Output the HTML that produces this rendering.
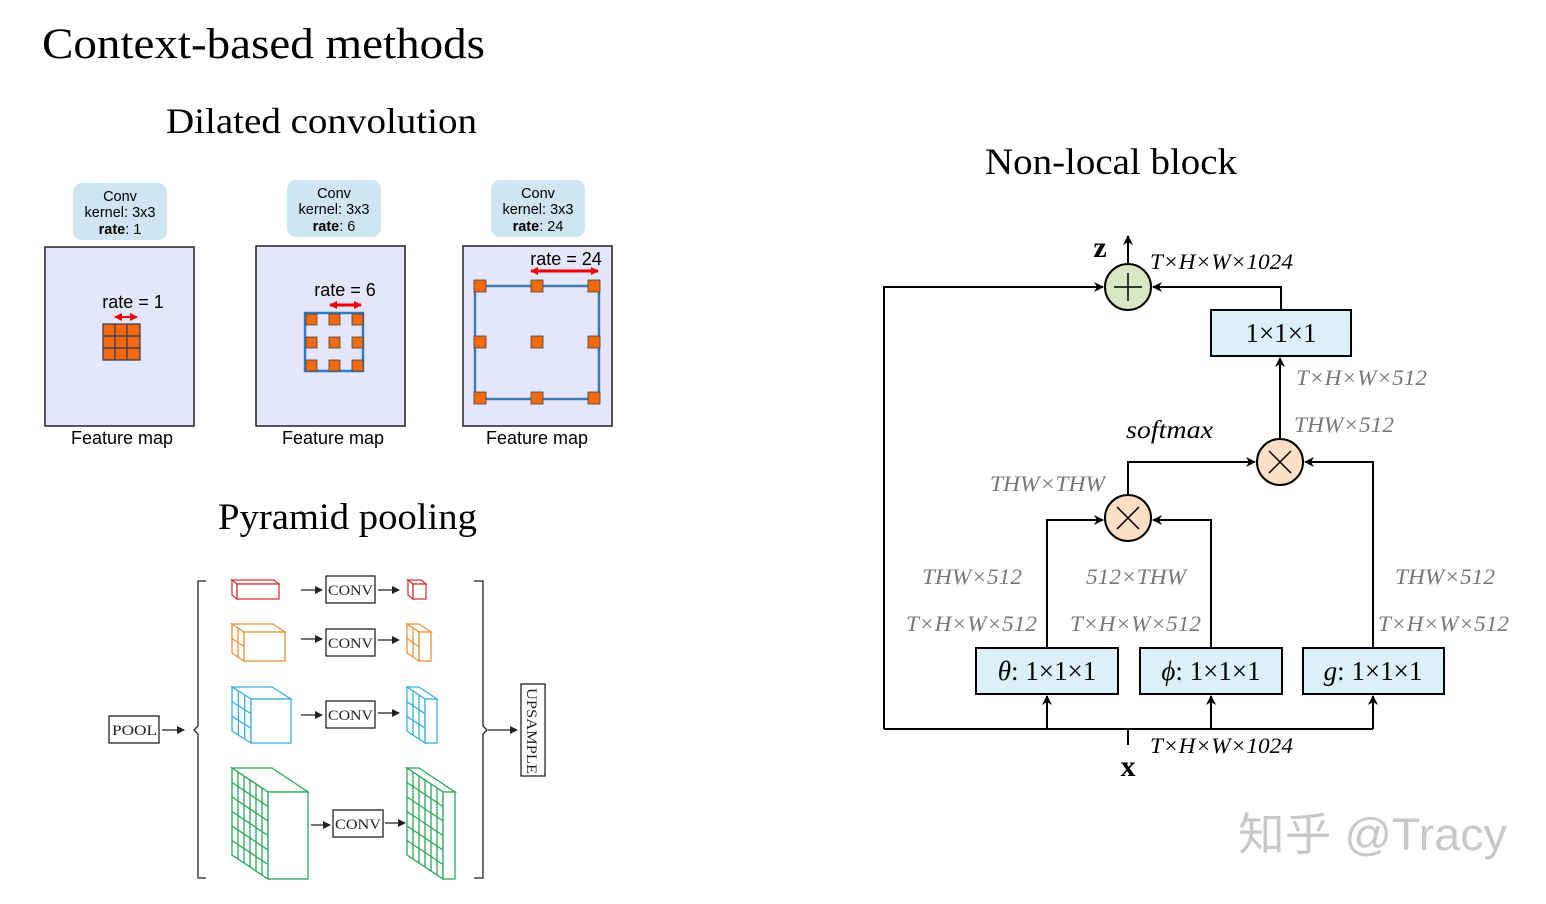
<!DOCTYPE html>
<html><head><meta charset="utf-8"><style>
html,body{margin:0;padding:0;background:#fff;width:1546px;height:904px;overflow:hidden}
svg{display:block}
.serif{font-family:"Liberation Serif",serif}
.sans{font-family:"Liberation Sans",sans-serif}
.gl{font-family:"Liberation Serif",serif;font-style:italic;fill:#777;font-size:22px}
</style></head><body>
<svg width="1546" height="904" viewBox="0 0 1546 904" xmlns="http://www.w3.org/2000/svg" id="s">
<defs>
<marker id="ah" markerWidth="10" markerHeight="10" refX="9" refY="5" orient="auto" markerUnits="userSpaceOnUse"><path d="M0,0 L10,5 L0,10 L3,5z" fill="#000"/></marker>
<marker id="as" markerWidth="8" markerHeight="8" refX="7" refY="4" orient="auto" markerUnits="userSpaceOnUse"><path d="M0,0 L8,4 L0,8z" fill="#222"/></marker>
<marker id="rr" markerWidth="8" markerHeight="8" refX="7" refY="4" orient="auto-start-reverse" markerUnits="userSpaceOnUse"><path d="M0,0 L8,4 L0,8z" fill="#e00"/></marker>
</defs>
<text x="42" y="58" class="serif" font-size="43" textLength="443" lengthAdjust="spacingAndGlyphs">Context-based methods</text>
<text x="166" y="133" class="serif" font-size="36" textLength="311" lengthAdjust="spacingAndGlyphs">Dilated convolution</text>
<text x="218" y="529" class="serif" font-size="37" textLength="259" lengthAdjust="spacingAndGlyphs">Pyramid pooling</text>
<text x="985" y="174" class="serif" font-size="37" textLength="252" lengthAdjust="spacingAndGlyphs">Non-local block</text>

<!-- dilated -->
<g class="sans" font-size="14.5" text-anchor="middle">
<rect x="73" y="183" width="94" height="57" rx="9" fill="#cfe6f2"/>
<text x="120" y="201">Conv</text><text x="120" y="217">kernel: 3x3</text><text x="120" y="234"><tspan font-weight="bold">rate</tspan>: 1</text>
<rect x="287" y="180" width="94" height="57" rx="9" fill="#cfe6f2"/>
<text x="334" y="198">Conv</text><text x="334" y="214">kernel: 3x3</text><text x="334" y="231"><tspan font-weight="bold">rate</tspan>: 6</text>
<rect x="491" y="180" width="94" height="57" rx="9" fill="#cfe6f2"/>
<text x="538" y="198">Conv</text><text x="538" y="214">kernel: 3x3</text><text x="538" y="231"><tspan font-weight="bold">rate</tspan>: 24</text>
</g>
<rect x="45" y="247" width="149" height="179" fill="#e6e6fa" stroke="#222" stroke-width="1.5"/>
<rect x="256" y="246" width="149" height="180" fill="#e6e6fa" stroke="#222" stroke-width="1.5"/>
<rect x="463" y="246" width="149" height="180" fill="#e6e6fa" stroke="#222" stroke-width="1.5"/>
<g class="sans" font-size="18" text-anchor="middle">
<text x="122" y="444">Feature map</text><text x="333" y="444">Feature map</text><text x="537" y="444">Feature map</text>
<text x="133" y="308">rate = 1</text><text x="345" y="296">rate = 6</text><text x="566" y="265">rate = 24</text>
</g>
<line x1="115" y1="317" x2="137" y2="317" stroke="#e00" stroke-width="2" marker-start="url(#rr)" marker-end="url(#rr)"/>
<line x1="330" y1="305" x2="361" y2="305" stroke="#e00" stroke-width="3" marker-start="url(#rr)" marker-end="url(#rr)"/>
<line x1="531" y1="271" x2="598" y2="271" stroke="#e00" stroke-width="3" marker-start="url(#rr)" marker-end="url(#rr)"/>
<rect x="103" y="324" width="37" height="36" fill="#f26a10" stroke="#335" stroke-width="1.2"/>
<path d="M115,324V360M127,324V360M103,336H140M103,348H140" stroke="#335" stroke-width="1.2"/>
<rect x="305" y="313" width="58" height="58" fill="none" stroke="#2f7cc0" stroke-width="2.5"/>
<rect x="475" y="286" width="124" height="113" fill="none" stroke="#3f7ab5" stroke-width="2.5"/>
<g id="dots" fill="#f26a10" stroke="#444" stroke-width="0.8"></g>

<!-- pyramid -->
<g id="pyr" fill="none" stroke-width="1.3"></g>
<g class="serif" font-size="14" stroke="#222" fill="none" stroke-width="1.3">
<rect x="109" y="716" width="50" height="27"/>
<rect x="326" y="576" width="49" height="27"/>
<rect x="326" y="629" width="49" height="27"/>
<rect x="326" y="701" width="49" height="27"/>
<rect x="333" y="810" width="50" height="27"/>
<rect x="521" y="684" width="24" height="92"/>
<path d="M206,581 H198 V726 L194,730 L198,734 V878 H206"/>
<path d="M474,581 H483 V726 L487,730 L483,734 V878 H474"/>
</g>
<g class="serif" font-size="15" fill="#222">
<text x="112" y="735" textLength="45" lengthAdjust="spacingAndGlyphs">POOL</text>
<text x="328" y="595" textLength="45" lengthAdjust="spacingAndGlyphs">CONV</text><text x="328" y="648" textLength="45" lengthAdjust="spacingAndGlyphs">CONV</text><text x="328" y="720" textLength="45" lengthAdjust="spacingAndGlyphs">CONV</text><text x="335" y="829" textLength="46" lengthAdjust="spacingAndGlyphs">CONV</text>
<text transform="translate(527,688) rotate(90)" font-size="15" textLength="86" lengthAdjust="spacingAndGlyphs">UPSAMPLE</text>
</g>
<g stroke="#222" stroke-width="1.3" marker-end="url(#as)">
<line x1="162" y1="730" x2="184" y2="730"/>
<line x1="488" y1="730" x2="517" y2="730"/>
<line x1="301" y1="590" x2="322" y2="590"/><line x1="378" y1="590" x2="399" y2="590"/>
<line x1="301" y1="639" x2="322" y2="639"/><line x1="378" y1="640" x2="399" y2="640"/>
<line x1="301" y1="715" x2="322" y2="715"/><line x1="378" y1="713" x2="399" y2="713"/>
<line x1="311" y1="825" x2="330" y2="825"/><line x1="385" y1="823" x2="405" y2="823"/>
</g>

<!-- non-local -->
<g stroke="#000" stroke-width="2" fill="none">
<polyline points="1128,745 1128,729"/>
<polyline points="884,729 1373,729"/>
<polyline points="884,729 884,287 1103,287" marker-end="url(#ah)"/>
<polyline points="1047,729 1047,696" marker-end="url(#ah)"/>
<polyline points="1211,729 1211,696" marker-end="url(#ah)"/>
<polyline points="1373,729 1373,696" marker-end="url(#ah)"/>
<polyline points="1047,648 1047,520 1103,520" marker-end="url(#ah)"/>
<polyline points="1211,648 1211,520 1153,520" marker-end="url(#ah)"/>
<polyline points="1373,648 1373,462 1305,462" marker-end="url(#ah)"/>
<polyline points="1128,495 1128,462 1255,462" marker-end="url(#ah)"/>
<polyline points="1280,439 1280,358" marker-end="url(#ah)"/>
<polyline points="1281,310 1281,287 1153,287" marker-end="url(#ah)"/>
<polyline points="1128,264 1128,236" marker-end="url(#ah)"/>
</g>
<g stroke="#000" stroke-width="2">
<circle cx="1128" cy="287" r="23" fill="#dbe7c4"/>
<path d="M1128,273V301M1114,287H1142" stroke-width="1.5"/>
<circle cx="1128" cy="518" r="23" fill="#fbe0c6"/>
<path d="M1117,507L1139,529M1139,507L1117,529" stroke-width="1.5"/>
<circle cx="1280" cy="462" r="23" fill="#fbe0c6"/>
<path d="M1269,451L1291,473M1291,451L1269,473" stroke-width="1.5"/>
<rect x="1211" y="310" width="140" height="46" fill="#dcf0fa"/>
<rect x="976" y="648" width="142" height="46" fill="#dcf0fa"/>
<rect x="1140" y="648" width="142" height="46" fill="#dcf0fa"/>
<rect x="1303" y="648" width="141" height="46" fill="#dcf0fa"/>
</g>
<g class="serif" font-size="27" text-anchor="middle">
<text x="1281" y="342">1×1×1</text>
<text x="1047" y="680"><tspan font-style="italic">θ</tspan>: 1×1×1</text>
<text x="1211" y="680"><tspan font-style="italic">ϕ</tspan>: 1×1×1</text>
<text x="1373" y="680"><tspan font-style="italic">g</tspan>: 1×1×1</text>
</g>
<text x="1100" y="257" class="serif" font-size="30" font-weight="bold" text-anchor="middle">z</text>
<text x="1128" y="776" class="serif" font-size="30" font-weight="bold" text-anchor="middle">x</text>
<g class="serif" font-style="italic" font-size="22">
<text x="1150" y="269" textLength="143" lengthAdjust="spacingAndGlyphs">T×H×W×1024</text>
<text x="1150" y="753" textLength="143" lengthAdjust="spacingAndGlyphs">T×H×W×1024</text>
<text x="1126" y="438" font-size="25" textLength="87" lengthAdjust="spacingAndGlyphs">softmax</text>
</g>
<text x="1296" y="385" class="gl" textLength="131" lengthAdjust="spacingAndGlyphs">T×H×W×512</text>
<text x="1294" y="432" class="gl" textLength="100" lengthAdjust="spacingAndGlyphs">THW×512</text>
<text x="990" y="491" class="gl" textLength="115" lengthAdjust="spacingAndGlyphs">THW×THW</text>
<text x="922" y="584" class="gl" textLength="100" lengthAdjust="spacingAndGlyphs">THW×512</text>
<text x="1086" y="584" class="gl" textLength="100" lengthAdjust="spacingAndGlyphs">512×THW</text>
<text x="1395" y="584" class="gl" textLength="100" lengthAdjust="spacingAndGlyphs">THW×512</text>
<text x="906" y="631" class="gl" textLength="131" lengthAdjust="spacingAndGlyphs">T×H×W×512</text>
<text x="1070" y="631" class="gl" textLength="131" lengthAdjust="spacingAndGlyphs">T×H×W×512</text>
<text x="1378" y="631" class="gl" textLength="131" lengthAdjust="spacingAndGlyphs">T×H×W×512</text>

<text x="1238" y="850" font-family="'Liberation Sans','Noto Sans CJK SC',sans-serif" font-size="45" fill="#c8c8c8" textLength="269" lengthAdjust="spacingAndGlyphs">知乎 @Tracy</text>
</svg>
<script>
var NS="http://www.w3.org/2000/svg";
function el(p,t,a){var e=document.createElementNS(NS,t);for(var k in a)e.setAttribute(k,a[k]);p.appendChild(e);return e;}
var d=document.getElementById("dots");
[[311,319],[334,319],[357,319],[311,342],[334,342],[357,342],[311,365],[334,365],[357,365]].forEach(function(p){el(d,"rect",{x:p[0]-5,y:p[1]-5,width:11,height:11});});
[[480,286],[537,286],[594,286],[480,342],[537,342],[594,342],[480,398],[537,398],[594,398]].forEach(function(p){el(d,"rect",{x:p[0]-6,y:p[1]-6,width:12,height:12});});
var g=document.getElementById("pyr");
function cub(fx,fy,fw,fh,dx,dy,n,m,c){
 var bx=fx-dx,by=fy-dy;
 el(g,"polygon",{points:[bx,by,bx+fw,by,fx+fw,fy,fx,fy].join(","),stroke:c,fill:"#fff"});
 el(g,"polygon",{points:[bx,by,fx,fy,fx,fy+fh,bx,by+fh].join(","),stroke:c,fill:"#fff"});
 el(g,"rect",{x:fx,y:fy,width:fw,height:fh,stroke:c,fill:"#fff"});
 for(var i=1;i<n;i++){var t=i/n;el(g,"line",{x1:bx+dx*t,y1:by+dy*t,x2:bx+dx*t,y2:by+dy*t+fh,stroke:c});}
 for(var j=1;j<m;j++){var y=fh*j/m;el(g,"line",{x1:bx,y1:by+y,x2:fx,y2:fy+y,stroke:c});}
}
cub(237,584,42,15,5,4,1,1,"#d8333a");
cub(413,584,13,15,5,4,1,1,"#d8333a");
cub(244,632,41,29,12,8,2,2,"#e99535");
cub(419,632,12,29,12,8,2,2,"#e99535");
cub(251,699,40,44,19,12,3,3,"#3ab0dc");
cub(425,699,12,44,18,12,3,3,"#3ab0dc");
cub(268,792,40,87,36,24,6,6,"#2aa85a");
cub(443,792,12,87,36,24,6,6,"#2aa85a");
</script>
</body></html>
